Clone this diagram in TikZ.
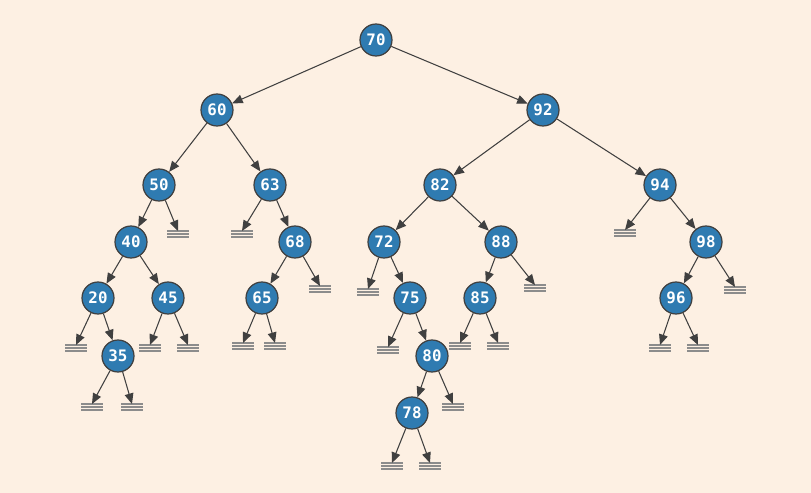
\documentclass[tikz,border=0pt]{standalone}
\usepackage{fontspec}
\setmonofont{DejaVu Sans Mono}
\usetikzlibrary{arrows.meta}
\definecolor{bg}{HTML}{FDF0E3}
\definecolor{nd}{HTML}{2F7BB1}
\tikzset{
 tn/.style={circle,draw=black!75,line width=0.7pt,fill=nd,minimum size=32\unitpx,inner sep=0pt,text=white,font=\ttfamily\bfseries\small},
 ed/.style={draw=black!75,line width=0.6pt,-{Triangle[length=6pt,width=5pt]}},
 gl/.style={draw=black!45,line width=0.8pt}
}
\newlength{\unitpx}\setlength{\unitpx}{0.02cm}
\newcommand{\gnd}[3]{\coordinate (#1) at (#2,#3);
 \foreach \k in {0,1,2}{\draw[gl] ($(#1)+(-11,\k*3)$) -- ($(#1)+(11,\k*3)$);}}
\usetikzlibrary{calc}
\begin{document}
\begin{tikzpicture}[x=0.02cm,y=-0.02cm]
\fill[bg] (0,0) rectangle (811,493);
\useasboundingbox (0,0) rectangle (811,493);
\foreach \n/\x/\y in {70/376/40,60/217/110,92/543/110,50/159/185,63/270/185,82/440/185,94/660/185,40/131/242,68/295/242,72/384/242,88/501/242,98/706/242,20/98/298,45/168/298,65/262/298,75/410/298,85/480/298,96/676/298,35/118/356,80/432/356,78/412/413}
 \node[tn] (n\n) at (\x,\y) {\n};
\gnd{g50r}{178}{231}\gnd{g63l}{242}{231}\gnd{g68r}{320}{286}
\gnd{g20l}{76}{345}\gnd{g45l}{150}{345}\gnd{g45r}{188}{345}
\gnd{g65l}{243}{343}\gnd{g65r}{275}{343}\gnd{g35l}{92}{404}\gnd{g35r}{132}{404}
\gnd{g72l}{368}{289}\gnd{g88r}{535}{285}\gnd{g75l}{388}{347}
\gnd{g85l}{460}{343}\gnd{g85r}{498}{343}\gnd{g80r}{453}{404}
\gnd{g78l}{392}{463}\gnd{g78r}{430}{463}\gnd{g94l}{625}{230}
\gnd{g98r}{735}{287}\gnd{g96l}{660}{345}\gnd{g96r}{698}{345}
\foreach \a/\b in {70/60,70/92,60/50,60/63,92/82,92/94,50/40,63/68,82/72,82/88,94/98,40/20,40/45,68/65,72/75,88/85,98/96,20/35,75/80,80/78}
 \draw[ed] (n\a) -- (n\b);
\foreach \a/\b in {50/g50r,63/g63l,68/g68r,20/g20l,45/g45l,45/g45r,65/g65l,65/g65r,35/g35l,35/g35r,72/g72l,88/g88r,75/g75l,85/g85l,85/g85r,80/g80r,78/g78l,78/g78r,94/g94l,98/g98r,96/g96l,96/g96r}
 \draw[ed] (n\a) -- (\b);
\end{tikzpicture}
\end{document}
